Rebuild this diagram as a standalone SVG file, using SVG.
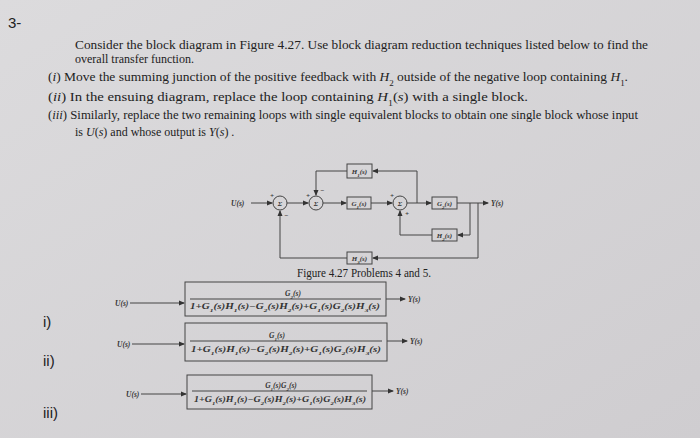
<svg xmlns="http://www.w3.org/2000/svg" width="700" height="438" viewBox="0 0 700 438">
<defs>
<linearGradient id="bg" x1="0" y1="0" x2="1" y2="1"><stop offset="0" stop-color="#dcdbdd"/><stop offset="1" stop-color="#cfcdd0"/></linearGradient>
<marker id="ar" markerWidth="6" markerHeight="6" refX="5" refY="3" orient="auto" markerUnits="userSpaceOnUse"><path d="M0,0.5 L6,3 L0,5.5 z" fill="#333"/></marker>
<style>
.t{font-family:"Liberation Serif",serif;fill:#222;font-size:12px}
.m{font-family:"Liberation Serif",serif;font-style:italic;font-weight:bold;fill:#333;font-size:7px}
.f{font-family:"Liberation Serif",serif;font-style:italic;font-weight:bold;fill:#333;font-size:7.5px}
.s{font-family:"Liberation Sans",sans-serif;fill:#222;font-size:15px}
.b{fill:none;stroke:#444;stroke-width:1}
.l{fill:none;stroke:#444;stroke-width:1}
.a{fill:none;stroke:#444;stroke-width:1;marker-end:url(#ar)}
</style>
</defs>
<rect width="700" height="438" fill="url(#bg)"/>
<text class="s" x="8" y="28">3-</text>
<text class="t" x="75" y="49" textLength="573" lengthAdjust="spacingAndGlyphs">Consider the block diagram in Figure 4.27. Use block diagram reduction techniques listed below to find the</text>
<text class="t" x="75" y="63">overall transfer function.</text>
<text class="t" x="48" y="81" textLength="580" lengthAdjust="spacingAndGlyphs">(<tspan font-style="italic">i</tspan>)  Move the summing junction of the positive feedback with <tspan font-style="italic">H</tspan><tspan font-size="8" baseline-shift="sub">2</tspan> outside of the negative loop containing <tspan font-style="italic">H</tspan><tspan font-size="8" baseline-shift="sub">1</tspan>.</text>
<text class="t" x="48" y="101" textLength="480" lengthAdjust="spacingAndGlyphs">(<tspan font-style="italic">ii</tspan>)  In the ensuing diagram, replace the loop containing <tspan font-style="italic">H</tspan><tspan font-size="8" baseline-shift="sub">1</tspan>(<tspan font-style="italic">s</tspan>) with a single block.</text>
<text class="t" x="48" y="119" textLength="590" lengthAdjust="spacingAndGlyphs">(<tspan font-style="italic">iii</tspan>)  Similarly, replace the two remaining loops with single equivalent blocks to obtain one single block whose input</text>
<text class="t" x="75" y="136">is <tspan font-style="italic">U</tspan>(<tspan font-style="italic">s</tspan>) and whose output is <tspan font-style="italic">Y</tspan>(<tspan font-style="italic">s</tspan>) .</text>

<g id="connectors">
<path class="a" d="M251,203 H272"/>
<path class="a" d="M287,203 H308"/>
<path class="a" d="M323,203 H346"/>
<path class="a" d="M371,203 H392"/>
<path class="a" d="M407,203 H431"/>
<path class="a" d="M457,203 H488"/>
<path class="a" d="M417,203 V171 H373"/>
<path class="a" d="M347,171 H316 V195"/>
<path class="a" d="M470,203 V235 H458"/>
<path class="a" d="M432,235 H400 V211"/>
<path class="a" d="M478,203 V258 H373"/>
<path class="a" d="M347,258 H280 V211"/>
</g>
<g id="U"><text class="f" x="231" y="206">U(s)</text></g>
<g id="Y"><text class="f" x="491" y="206">Y(s)</text></g>
<g id="sum1"><circle class="b" cx="280" cy="203" r="7"/><text class="m" x="280" y="206" text-anchor="middle">Σ</text><text class="m" x="270" y="198">+</text><text class="m" x="284" y="218" font-size="9">−</text></g>
<g id="sum2"><circle class="b" cx="316" cy="203" r="7"/><text class="m" x="316" y="206" text-anchor="middle">Σ</text><text class="m" x="306" y="198">+</text><text class="m" x="320" y="193" font-size="9">−</text></g>
<g id="sum3"><circle class="b" cx="400" cy="203" r="7"/><text class="m" x="400" y="206" text-anchor="middle">Σ</text><text class="m" x="390" y="198">+</text><text class="m" x="405" y="216">+</text></g>
<g id="G1"><rect class="b" x="347" y="197" width="24" height="12"/><text class="m" x="359" y="206" text-anchor="middle">G<tspan font-size="5" baseline-shift="sub">1</tspan>(s)</text></g>
<g id="G2"><rect class="b" x="432" y="197" width="25" height="12"/><text class="m" x="444.5" y="206" text-anchor="middle">G<tspan font-size="5" baseline-shift="sub">2</tspan>(s)</text></g>
<g id="H1"><rect class="b" x="347" y="164" width="25" height="14"/><text class="m" x="359.5" y="174" text-anchor="middle">H<tspan font-size="5" baseline-shift="sub">1</tspan>(s)</text></g>
<g id="H2"><rect class="b" x="432" y="229" width="25" height="12"/><text class="m" x="444.5" y="238" text-anchor="middle">H<tspan font-size="5" baseline-shift="sub">2</tspan>(s)</text></g>
<g id="H3"><rect class="b" x="347" y="252" width="25" height="12"/><text class="m" x="359.5" y="261" text-anchor="middle">H<tspan font-size="5" baseline-shift="sub">3</tspan>(s)</text></g>
<text class="t" x="297" y="277" font-size="12" textLength="134" lengthAdjust="spacingAndGlyphs">Figure 4.27 Problems 4 and 5.</text>

<g id="ans1">
<text class="f" x="115" y="306">U(s)</text><path class="a" d="M130,303 H184"/>
<rect class="b" x="185" y="282" width="201" height="34"/>
<text class="f" x="293" y="296" text-anchor="middle">G<tspan font-size="5" baseline-shift="sub">2</tspan>(s)</text>
<line class="l" x1="190" y1="299" x2="381" y2="299"/>
<text class="f" x="285" y="309" text-anchor="middle" textLength="190" lengthAdjust="spacingAndGlyphs">1+G<tspan font-size="5" baseline-shift="sub">1</tspan>(s)H<tspan font-size="5" baseline-shift="sub">1</tspan>(s)−G<tspan font-size="5" baseline-shift="sub">2</tspan>(s)H<tspan font-size="5" baseline-shift="sub">2</tspan>(s)+G<tspan font-size="5" baseline-shift="sub">1</tspan>(s)G<tspan font-size="5" baseline-shift="sub">2</tspan>(s)H<tspan font-size="5" baseline-shift="sub">3</tspan>(s)</text>
<path class="a" d="M386,299 H405"/><text class="f" x="408" y="302">Y(s)</text>
</g>
<g id="ans2">
<text class="f" x="117" y="347">U(s)</text><path class="a" d="M132,344 H184"/>
<rect class="b" x="185" y="323" width="202" height="38"/>
<text class="f" x="277" y="338" text-anchor="middle">G<tspan font-size="5" baseline-shift="sub">1</tspan>(s)</text>
<line class="l" x1="190" y1="341" x2="382" y2="341"/>
<text class="f" x="286" y="352" text-anchor="middle" textLength="190" lengthAdjust="spacingAndGlyphs">1+G<tspan font-size="5" baseline-shift="sub">1</tspan>(s)H<tspan font-size="5" baseline-shift="sub">1</tspan>(s)−G<tspan font-size="5" baseline-shift="sub">2</tspan>(s)H<tspan font-size="5" baseline-shift="sub">2</tspan>(s)+G<tspan font-size="5" baseline-shift="sub">1</tspan>(s)G<tspan font-size="5" baseline-shift="sub">2</tspan>(s)H<tspan font-size="5" baseline-shift="sub">3</tspan>(s)</text>
<path class="a" d="M387,341 H407"/><text class="f" x="410" y="344">Y(s)</text>
</g>
<g id="ans3">
<text class="f" x="126" y="397">U(s)</text><path class="a" d="M141,394 H186"/>
<rect class="b" x="187" y="375" width="185" height="34"/>
<text class="f" x="281" y="388" text-anchor="middle">G<tspan font-size="5" baseline-shift="sub">1</tspan>(s)G<tspan font-size="5" baseline-shift="sub">2</tspan>(s)</text>
<line class="l" x1="192" y1="391" x2="367" y2="391"/>
<text class="f" x="280" y="402" text-anchor="middle" textLength="172" lengthAdjust="spacingAndGlyphs">1+G<tspan font-size="5" baseline-shift="sub">1</tspan>(s)H<tspan font-size="5" baseline-shift="sub">1</tspan>(s)−G<tspan font-size="5" baseline-shift="sub">2</tspan>(s)H<tspan font-size="5" baseline-shift="sub">2</tspan>(s)+G<tspan font-size="5" baseline-shift="sub">1</tspan>(s)G<tspan font-size="5" baseline-shift="sub">2</tspan>(s)H<tspan font-size="5" baseline-shift="sub">3</tspan>(s)</text>
<path class="a" d="M372,391 H393"/><text class="f" x="396" y="394">Y(s)</text>
</g>
<text class="s" x="43" y="327">i)</text>
<text class="s" x="43" y="366">ii)</text>
<text class="s" x="43" y="418">iii)</text>
</svg>
